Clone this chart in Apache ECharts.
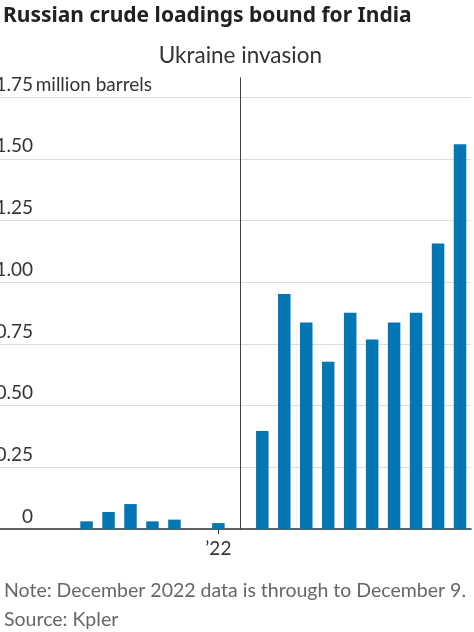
<!DOCTYPE html>
<html><head><meta charset="utf-8">
<script src="https://cdn.jsdelivr.net/npm/echarts@6/dist/echarts.min.js"></script>
<style>html,body{margin:0;padding:0;background:#fff}#c{width:474px;height:632px}</style>
</head><body><div id="c"></div>
<script>
const months = ['Mar 2021','Apr 2021','May 2021','Jun 2021','Jul 2021','Aug 2021','Sep 2021','Oct 2021','Nov 2021','Dec 2021','Jan 2022','Feb 2022','Mar 2022','Apr 2022','May 2022','Jun 2022','Jul 2022','Aug 2022','Sep 2022','Oct 2022','Nov 2022','Dec 2022'];
const loadings = [null,null,null,null,0.031,0.069,0.101,0.031,0.038,null,0.024,null,0.397,0.952,0.837,0.678,0.876,0.768,0.837,0.876,1.157,1.559];
const yTicks = [0,0.25,0.5,0.75,1.0,1.25,1.5,1.75];
const xTickMonth = 'Jan 2022';
const xTickLabel = '\u201922';
const eventMonth = 'Feb 2022';
const eventLabel = 'Ukraine invasion';
const titleText = 'Russian crude loadings bound for India';
const noteText = 'Note: December 2022 data is through to December 9.';
const sourceText = 'Source: Kpler';
const unitText = 'million barrels';

const labelFont = 'Lato, Roboto, sans-serif';
const fmtTick = v=>{const t=yTicks.find(x=>Math.abs(x-v)<1e-6);if(t===undefined)return '';return t===0?'0':t.toFixed(2);};
const chart = echarts.init(document.getElementById('c'), null, {renderer:'canvas'});
chart.setOption({
  animation:false,
  title:[
    {text:titleText,left:-2,top:1,textStyle:{fontFamily:'"Noto Sans", Roboto, sans-serif',fontWeight:'bold',fontSize:21,color:'#222'}},
    {text:noteText+'\n'+sourceText,left:-1,top:571,textStyle:{fontFamily:'Lato, "Open Sans", sans-serif',fontWeight:'normal',fontSize:19.5,lineHeight:29,color:'#666'}}
  ],
  grid:{left:-12.3,right:3,top:77.3,bottom:103,containLabel:false,outerBoundsMode:'none'},
  xAxis:{type:'category',data:months,boundaryGap:true,
    axisLine:{show:true,lineStyle:{color:'#333',width:1.5}},
    splitLine:{show:false},
    axisTick:{show:true,alignWithLabel:true,interval:(i,v)=>v===xTickMonth,length:5,lineStyle:{color:'#333'}},
    axisLabel:{interval:(i,v)=>v===xTickMonth,formatter:v=>v===xTickMonth?xTickLabel:'',margin:10,fontFamily:labelFont,fontSize:19,color:'#333'}
  },
  yAxis:[{type:'value',min:0,max:1.83,interval:0.25,
    axisLine:{show:false},axisTick:{show:false},
    splitLine:{show:true,showMaxLine:false,lineStyle:{color:'#dcdcdc',width:1}},
    axisLabel:{inside:true,align:'right',verticalAlign:'bottom',margin:45.3,padding:[0,0,3,0],showMaxLabel:false,
      fontFamily:labelFont,fontSize:19,color:'#333',formatter:fmtTick}
  },{type:'value',min:0,max:1.83,interval:0.25,position:'left',
    axisLine:{show:false},axisTick:{show:false},splitLine:{show:false},
    axisLabel:{inside:true,align:'left',verticalAlign:'bottom',margin:48,padding:[0,0,3,0],showMaxLabel:false,
      fontFamily:labelFont,fontSize:19,color:'#333',
      formatter:v=>Math.abs(v-yTicks[yTicks.length-1])<1e-6?unitText:''}
  }],
  series:[{type:'bar',barWidth:12.5,itemStyle:{color:'#0277b3'},
    data:loadings,
    markLine:{symbol:'none',silent:true,
      lineStyle:{color:'#444',width:1,type:'solid'},
      label:{show:true,position:'end',distance:10,formatter:eventLabel,fontFamily:'Lato, "Open Sans", sans-serif',fontSize:22.5,color:'#333'},
      data:[{xAxis:eventMonth}]}
  }]
});
</script></body></html>
